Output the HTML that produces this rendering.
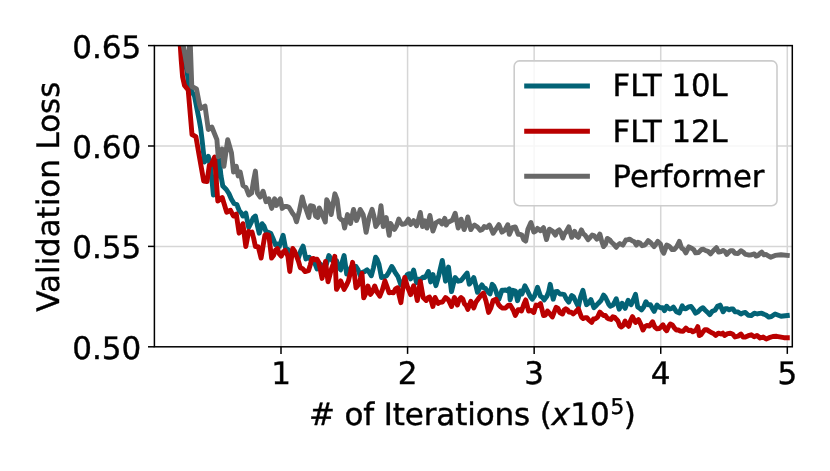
<!DOCTYPE html>
<html><head><meta charset="utf-8"><title>Validation Loss</title>
<style>html,body{margin:0;padding:0;background:#fff;}svg{display:block;}text{text-rendering:geometricPrecision;stroke:#000;stroke-width:0.4px;}</style>
</head><body>
<svg width="830" height="471" viewBox="0 0 830 471">
<defs><clipPath id="ax"><rect x="154.4" y="45.6" width="637.90" height="301.20"/></clipPath></defs>
<rect x="0" y="0" width="830" height="471" fill="#fff"/>
<line x1="281.00" y1="45.6" x2="281.00" y2="346.8" stroke="#d6d6d6" stroke-width="1.5"/>
<line x1="407.57" y1="45.6" x2="407.57" y2="346.8" stroke="#d6d6d6" stroke-width="1.5"/>
<line x1="534.15" y1="45.6" x2="534.15" y2="346.8" stroke="#d6d6d6" stroke-width="1.5"/>
<line x1="660.73" y1="45.6" x2="660.73" y2="346.8" stroke="#d6d6d6" stroke-width="1.5"/>
<line x1="787.30" y1="45.6" x2="787.30" y2="346.8" stroke="#d6d6d6" stroke-width="1.5"/>
<line x1="154.4" y1="146.0" x2="792.3" y2="146.0" stroke="#d6d6d6" stroke-width="1.5"/>
<line x1="154.4" y1="246.4" x2="792.3" y2="246.4" stroke="#d6d6d6" stroke-width="1.5"/>
<g clip-path="url(#ax)" fill="none" stroke-width="4.9" stroke-linejoin="round" stroke-linecap="square">
<polyline points="182.0,40.0 183.8,56.0 187.2,72.0 188.4,84.0 192.0,92.0 194.5,96.0 196.6,107.0 199.2,120.0 200.6,128.0 202.1,140.0 204.5,162.0 208.3,156.3 210.8,168.0 213.4,195.0 219.3,160.0 221.0,176.0 222.8,186.0 226.3,189.5 228.9,193.5 231.3,199.0 234.0,203.5 236.8,204.5 239.4,211.0 241.2,212.9 242.9,216.0 245.8,213.2 248.7,227.5 251.5,221.8 253.4,217.6 255.4,216.0 257.3,225.1 259.2,233.2 262.1,223.7 264.0,226.0 265.9,231.3 268.3,232.4 270.7,233.2 273.0,238.5 275.4,244.7 277.4,244.1 279.3,246.6 281.2,240.9 283.1,235.2 286.0,250.4 288.0,249.5 290.0,252.0 292.0,252.8 294.0,254.0 296.2,254.5 298.4,258.1 300.8,250.6 303.1,246.1 305.9,258.9 307.6,257.8 309.3,257.2 311.5,260.9 313.6,262.3 315.3,264.3 317.0,269.0 318.7,265.5 320.4,264.0 322.4,266.5 324.5,268.0 326.7,263.4 328.9,255.5 330.6,258.3 332.3,260.6 334.4,260.2 336.5,260.6 338.6,267.0 340.7,269.9 342.4,261.1 344.1,255.5 346.7,274.1 348.8,272.0 350.9,267.4 353.4,266.2 356.0,266.5 358.1,269.9 360.3,275.8 362.4,272.3 364.5,271.6 367.1,269.9 369.2,272.2 371.3,275.8 373.5,267.6 375.6,257.2 377.2,259.5 378.9,264.0 381.5,277.5 384.1,276.9 386.6,275.8 389.1,271.7 391.7,266.5 393.4,269.0 395.1,272.4 398.0,276.7 400.9,284.9 402.9,282.1 405.0,279.0 407.1,274.8 409.1,273.8 410.6,279.0 413.6,270.1 416.5,282.7 418.8,279.3 421.0,279.0 422.9,277.2 424.7,277.5 426.5,275.1 428.4,271.5 430.7,281.9 432.9,274.5 435.9,285.7 438.8,275.3 440.6,267.6 442.3,260.4 445.5,281.2 448.5,267.1 451.5,291.6 453.4,283.9 455.2,277.5 458.2,281.2 461.1,280.5 464.1,276.7 467.1,273.0 469.3,284.2 471.6,281.2 473.8,277.5 475.6,284.7 477.5,292.3 479.7,287.9 481.9,284.9 483.8,287.8 485.6,288.6 487.9,291.9 490.1,293.8 492.2,284.3 493.9,286.2 495.5,290.0 497.2,294.9 498.9,299.2 501.9,290.3 503.7,290.2 505.5,290.0 507.4,290.8 509.3,288.8 510.1,299.9 513.0,290.3 515.5,291.0 517.5,300.7 520.5,291.0 522.0,294.0 524.9,285.8 527.9,291.7 530.1,296.3 532.3,299.2 534.5,296.0 537.5,287.3 540.5,296.2 542.4,297.3 544.2,299.9 547.0,296.0 548.6,291.9 550.2,284.3 553.2,299.2 555.4,291.7 557.6,291.5 559.8,294.0 562.0,294.1 564.3,294.7 566.5,299.3 568.8,302.1 571.7,295.5 573.4,296.5 575.0,300.0 576.7,303.3 578.4,306.6 580.6,296.8 582.9,290.3 584.7,298.1 586.5,304.7 588.7,303.1 590.9,299.5 593.9,307.7 596.1,305.7 598.4,303.2 601.0,300.5 603.6,295.1 605.3,297.1 607.0,300.5 608.6,304.1 610.3,306.2 613.0,305.0 614.6,302.2 616.2,298.8 619.2,309.2 622.1,303.2 625.1,308.4 628.1,300.3 631.1,304.7 633.3,299.8 635.5,294.3 637.7,306.9 639.6,308.2 641.5,309.9 643.7,307.0 645.9,301.7 648.1,304.8 650.4,304.7 652.2,308.0 654.1,311.4 657.0,305.0 658.9,306.9 660.8,307.7 662.6,307.6 664.5,310.7 666.7,306.2 668.4,308.3 670.0,309.0 671.7,308.5 673.4,307.0 676.4,311.7 679.4,312.9 682.2,305.8 684.0,308.5 685.9,308.8 688.5,306.9 691.1,306.5 693.4,309.4 695.6,313.2 698.2,311.6 700.8,308.8 702.9,307.7 705.0,310.0 707.4,312.2 709.7,314.7 712.3,311.3 714.9,310.3 717.5,306.3 720.1,305.1 723.1,311.7 725.3,308.7 727.5,308.8 729.2,309.9 731.0,309.0 733.0,309.0 735.0,311.7 738.0,311.9 740.9,314.0 743.1,312.9 745.4,312.5 748.3,315.3 751.3,315.5 754.3,313.2 757.3,314.0 759.5,313.4 761.7,313.2 763.9,314.3 766.0,315.0 768.7,317.1 771.4,316.5 775.1,314.0 781.0,316.2 787.3,315.5" stroke="#036376"/>
<polyline points="179.9,40.0 181.2,60.0 182.6,77.0 184.5,85.4 188.2,90.0 192.0,134.5 195.9,136.6 199.1,155.0 203.7,181.0 207.0,181.6 209.3,165.5 211.3,164.5 214.6,157.0 217.8,201.0 222.2,197.5 226.7,212.2 230.5,210.3 233.4,216.0 236.3,214.1 239.1,233.2 241.0,229.6 242.9,223.7 245.8,246.6 248.7,231.3 250.3,233.0 252.0,232.0 253.7,238.5 255.4,246.6 258.2,246.6 261.1,258.1 263.0,246.3 264.9,235.2 266.9,234.7 268.8,235.2 271.6,258.1 273.5,255.6 275.4,250.4 277.4,248.5 279.3,254.0 281.2,256.2 283.1,252.0 285.0,250.4 287.9,256.2 289.8,271.5 292.7,248.5 294.6,251.2 296.5,256.2 298.4,261.0 300.3,267.7 302.7,268.7 305.1,271.6 306.8,271.1 308.5,270.7 310.2,265.1 311.9,258.9 313.6,258.4 315.3,259.7 317.0,259.2 318.7,262.3 320.4,270.1 322.1,278.4 323.8,269.4 325.5,261.4 328.0,281.8 329.7,275.6 331.4,269.0 333.1,264.3 334.8,256.3 336.5,289.4 338.6,285.8 340.7,280.9 342.4,285.2 344.1,289.4 346.2,285.6 348.4,280.9 350.5,272.2 352.6,262.3 354.3,273.4 356.0,287.7 359.0,284.0 362.0,273.3 363.7,297.9 365.8,293.4 367.9,286.0 370.5,294.5 372.6,291.3 374.7,286.0 377.2,292.4 379.8,296.2 382.4,289.6 384.9,280.9 387.0,286.5 389.1,292.8 391.2,292.4 393.4,292.8 395.5,288.8 397.6,287.7 399.2,295.7 400.9,302.7 402.8,288.5 404.7,277.5 407.6,287.1 410.6,294.6 413.6,285.7 415.5,291.5 417.3,300.5 420.3,281.2 423.2,297.5 426.2,300.5 427.9,297.7 429.5,297.0 431.2,300.5 432.9,306.5 435.1,297.5 438.1,303.5 440.3,302.2 442.5,302.0 445.5,297.5 448.5,300.0 451.5,306.5 454.4,297.5 457.4,305.0 459.2,299.6 461.1,297.5 462.8,299.0 464.5,304.0 466.1,305.4 467.8,309.4 470.8,301.3 473.8,307.9 476.0,302.0 478.2,299.0 480.8,295.6 483.4,293.1 486.0,301.0 488.6,312.4 490.9,307.8 493.1,300.5 495.9,299.2 498.9,305.1 500.8,307.0 502.6,308.1 505.5,308.0 508.6,305.1 510.3,305.3 512.0,308.0 513.6,310.9 515.3,315.5 518.2,309.6 519.9,309.8 521.5,311.0 523.6,305.0 525.7,299.9 528.6,311.0 531.2,310.4 533.8,312.5 536.1,305.1 538.3,305.6 540.5,303.6 543.5,315.5 545.5,315.0 547.5,311.0 550.0,313.9 552.4,317.0 554.2,312.1 556.1,307.3 558.0,308.4 559.8,312.5 562.5,314.0 564.1,310.0 565.8,308.8 567.4,309.8 569.0,312.0 571.1,312.2 573.2,314.0 575.5,312.0 578.4,308.8 581.4,317.0 583.2,318.5 585.1,317.7 587.0,317.6 588.8,320.0 591.7,322.5 593.4,319.0 595.0,319.0 597.5,317.2 599.9,312.1 601.7,313.9 603.5,315.5 605.4,315.5 607.3,318.1 609.1,319.0 611.0,319.5 612.9,316.7 614.7,317.3 616.4,319.3 618.0,321.0 619.7,325.7 621.4,327.0 623.2,325.4 625.1,321.1 627.0,324.4 628.8,326.3 630.6,320.6 632.5,316.6 635.5,322.5 638.5,319.6 640.8,324.3 643.0,330.0 644.9,326.6 646.7,325.5 649.5,326.0 652.6,321.8 654.8,327.0 657.0,328.7 659.3,328.5 661.1,326.8 663.0,324.8 664.9,328.8 666.7,330.7 668.5,326.7 670.4,324.0 672.3,324.9 674.2,327.7 676.4,330.0 678.6,330.0 680.0,331.1 683.0,331.3 685.9,328.1 688.5,330.5 691.1,330.3 692.8,331.8 694.5,331.0 696.1,329.9 697.8,326.6 699.3,335.5 701.1,334.5 703.0,331.8 704.9,329.7 706.7,329.6 709.0,331.1 711.2,332.5 713.5,333.5 715.7,335.5 718.3,333.1 720.9,334.0 722.8,333.1 724.6,335.5 727.5,333.6 730.5,333.3 732.8,334.3 735.0,337.0 738.0,336.2 740.9,334.0 743.1,337.1 745.4,337.0 748.3,335.7 751.3,334.8 754.1,336.7 757.0,335.5 760.1,338.0 763.2,337.0 766.2,339.0 769.2,337.7 772.9,336.5 776.6,336.3 784.0,337.7 787.3,337.7" stroke="#ba0000"/>
<polyline points="182.2,40.0 187.9,71.0 190.0,35.0 191.8,86.5 196.5,89.0 199.4,104.0 200.8,108.5 205.0,106.0 208.3,129.5 211.8,127.0 216.9,139.6 218.2,156.8 222.0,149.0 223.9,166.3 227.7,139.6 231.5,153.0 233.5,172.0 236.3,166.3 238.2,175.9 240.2,172.0 243.0,185.4 245.9,187.4 248.8,195.0 251.6,193.0 253.5,181.0 255.4,171.1 257.4,193.0 260.2,197.0 263.1,191.2 266.0,201.7 268.8,198.8 271.7,208.4 274.6,198.8 276.5,205.5 278.4,201.2 280.3,198.8 282.2,208.4 284.6,206.4 287.0,206.5 288.9,207.3 290.8,210.3 292.7,213.6 294.6,216.0 296.5,221.8 299.4,210.8 302.2,196.9 304.0,204.0 305.9,208.6 308.9,217.5 310.4,205.7 313.4,206.4 315.6,216.1 317.8,217.5 319.3,207.9 322.3,214.6 325.3,222.0 326.7,199.7 329.0,204.2 331.2,214.6 333.0,204.1 334.9,193.8 337.1,199.7 339.4,217.5 341.2,219.6 343.1,220.5 344.6,228.0 347.5,214.6 350.5,223.5 353.5,209.4 356.5,220.5 358.4,216.0 360.2,209.4 363.2,214.6 366.1,232.4 369.1,217.5 372.1,209.4 374.0,216.5 375.8,226.5 378.8,222.0 381.0,205.7 383.2,226.5 386.2,217.5 389.2,235.4 390.6,223.5 392.5,227.0 394.4,229.4 396.6,225.7 398.8,219.0 400.6,222.7 402.4,224.4 405.4,223.6 408.4,219.2 410.6,224.4 413.6,220.7 416.5,225.9 418.4,220.1 420.3,212.5 422.5,226.6 424.7,220.7 426.9,228.1 429.9,215.5 432.9,231.1 435.9,222.9 437.8,221.7 439.6,220.7 442.0,224.0 444.8,218.4 446.3,225.1 448.1,222.1 450.0,221.4 452.5,220.0 455.2,213.2 458.2,228.1 461.1,219.2 464.1,229.6 466.0,224.3 467.8,217.0 470.8,229.6 472.6,226.7 474.5,225.1 477.5,227.0 480.4,230.3 482.3,229.5 484.2,226.6 486.8,227.5 489.4,225.1 491.2,228.8 493.1,233.3 496.0,229.0 498.9,224.7 501.9,232.1 505.0,230.0 507.8,224.7 509.3,234.4 512.3,227.7 515.3,226.9 518.2,234.4 520.0,234.4 521.9,235.1 523.8,239.7 525.7,241.1 527.9,229.2 530.9,222.5 533.8,232.1 535.6,231.1 537.5,228.4 540.5,230.7 543.5,227.7 546.5,239.6 549.4,229.2 552.5,231.0 555.4,235.1 557.2,231.3 559.1,229.9 561.0,232.7 562.8,238.1 564.4,233.8 566.0,232.0 568.8,226.9 571.7,237.3 574.7,231.4 576.5,235.8 578.4,237.3 581.4,229.9 583.2,233.6 585.1,235.1 588.1,239.6 590.5,237.0 592.2,235.0 593.9,235.5 596.9,239.2 599.9,234.0 601.8,241.5 603.6,246.6 605.5,244.2 607.3,238.4 610.0,240.0 611.6,242.4 613.2,243.6 616.2,247.3 618.0,244.9 619.9,243.6 622.9,245.1 625.9,239.9 627.8,239.7 629.6,239.2 632.5,241.0 634.4,241.7 636.3,245.1 638.1,242.3 640.0,243.0 642.2,245.7 644.4,245.1 646.3,243.4 648.2,240.7 651.0,243.0 654.1,246.6 656.0,244.1 657.8,241.4 660.5,244.0 662.1,250.2 663.8,253.3 666.7,245.1 668.4,245.8 670.0,247.0 672.1,249.6 674.2,249.6 676.8,246.7 679.4,241.4 681.6,248.1 683.8,249.5 685.9,252.9 688.9,246.9 692.0,248.5 693.8,249.8 695.6,252.9 698.5,252.5 701.5,249.5 703.5,249.3 705.5,250.5 708.0,251.3 710.5,253.9 713.5,250.5 716.4,247.7 718.6,252.1 720.9,251.6 723.1,250.4 725.0,251.5 726.8,254.4 728.6,252.3 730.5,250.7 732.8,250.7 735.0,253.3 738.0,253.5 740.9,250.7 743.1,252.0 745.4,254.4 747.2,254.6 749.1,255.1 751.7,254.8 754.3,253.9 756.1,256.1 758.0,255.4 759.9,253.5 761.7,252.1 764.0,254.8 766.2,254.4 768.4,255.9 770.6,257.3 775.1,255.4 781.0,254.8 787.3,255.4" stroke="#686868"/>
</g>
<rect x="154.4" y="45.6" width="637.90" height="301.20" fill="none" stroke="#000" stroke-width="1.5" stroke-linejoin="miter" stroke-linecap="square"/>
<line x1="281.00" y1="346.8" x2="281.00" y2="353.90000000000003" stroke="#000" stroke-width="1.5"/>
<line x1="407.57" y1="346.8" x2="407.57" y2="353.90000000000003" stroke="#000" stroke-width="1.5"/>
<line x1="534.15" y1="346.8" x2="534.15" y2="353.90000000000003" stroke="#000" stroke-width="1.5"/>
<line x1="660.73" y1="346.8" x2="660.73" y2="353.90000000000003" stroke="#000" stroke-width="1.5"/>
<line x1="787.30" y1="346.8" x2="787.30" y2="353.90000000000003" stroke="#000" stroke-width="1.5"/>
<line x1="148.0" y1="45.6" x2="154.4" y2="45.6" stroke="#000" stroke-width="1.5"/>
<line x1="148.0" y1="146.0" x2="154.4" y2="146.0" stroke="#000" stroke-width="1.5"/>
<line x1="148.0" y1="246.4" x2="154.4" y2="246.4" stroke="#000" stroke-width="1.5"/>
<line x1="148.0" y1="346.8" x2="154.4" y2="346.8" stroke="#000" stroke-width="1.5"/>
<text x="141.3" y="57.60" text-anchor="end" font-family="DejaVu Sans, Liberation Sans, sans-serif" font-size="31.0">0.65</text>
<text x="141.3" y="157.60" text-anchor="end" font-family="DejaVu Sans, Liberation Sans, sans-serif" font-size="31.0">0.60</text>
<text x="141.3" y="258.10" text-anchor="end" font-family="DejaVu Sans, Liberation Sans, sans-serif" font-size="31.0">0.55</text>
<text x="141.3" y="359.10" text-anchor="end" font-family="DejaVu Sans, Liberation Sans, sans-serif" font-size="31.0">0.50</text>
<text x="281.00" y="383.6" text-anchor="middle" font-family="DejaVu Sans, Liberation Sans, sans-serif" font-size="31.0">1</text>
<text x="407.57" y="383.6" text-anchor="middle" font-family="DejaVu Sans, Liberation Sans, sans-serif" font-size="31.0">2</text>
<text x="534.15" y="383.6" text-anchor="middle" font-family="DejaVu Sans, Liberation Sans, sans-serif" font-size="31.0">3</text>
<text x="660.73" y="383.6" text-anchor="middle" font-family="DejaVu Sans, Liberation Sans, sans-serif" font-size="31.0">4</text>
<text x="787.30" y="383.6" text-anchor="middle" font-family="DejaVu Sans, Liberation Sans, sans-serif" font-size="31.0">5</text>
<text x="308.9" y="425.1" textLength="242.96" lengthAdjust="spacing" font-family="DejaVu Sans, Liberation Sans, sans-serif" font-size="31.0"># of Iterations (</text>
<text x="551.56" y="425.1" font-style="italic" font-family="DejaVu Sans, Liberation Sans, sans-serif" font-size="31.0">x</text>
<text x="570.3" y="425.1" font-family="DejaVu Sans, Liberation Sans, sans-serif" font-size="31.0">10</text>
<text x="610.57" y="413.6" font-family="DejaVu Sans, Liberation Sans, sans-serif" font-size="21.70">5</text>
<text x="623.79" y="425.1" font-family="DejaVu Sans, Liberation Sans, sans-serif" font-size="31.0">)</text>
<text transform="translate(58.5,196.7) rotate(-90)" x="0" y="0" text-anchor="middle" font-family="DejaVu Sans, Liberation Sans, sans-serif" font-size="30.88">Validation Loss</text>
<rect x="514.2" y="60.9" width="262.8" height="144.8" rx="5.3" ry="5.3" fill="#fff" fill-opacity="0.8" stroke="#cccccc" stroke-width="1.6"/>
<line x1="524.2" y1="86.0" x2="589.9" y2="86.0" stroke="#036376" stroke-width="4.9" stroke-linecap="butt"/>
<text x="612.5" y="96.3" font-family="DejaVu Sans, Liberation Sans, sans-serif" font-size="30.7">FLT 10L</text>
<line x1="524.2" y1="131.3" x2="589.9" y2="131.3" stroke="#ba0000" stroke-width="4.9" stroke-linecap="butt"/>
<text x="612.5" y="141.6" font-family="DejaVu Sans, Liberation Sans, sans-serif" font-size="30.7">FLT 12L</text>
<line x1="524.2" y1="176.3" x2="589.9" y2="176.3" stroke="#686868" stroke-width="4.9" stroke-linecap="butt"/>
<text x="612.5" y="186.6" font-family="DejaVu Sans, Liberation Sans, sans-serif" font-size="30.7">Performer</text>
</svg>
</body></html>
